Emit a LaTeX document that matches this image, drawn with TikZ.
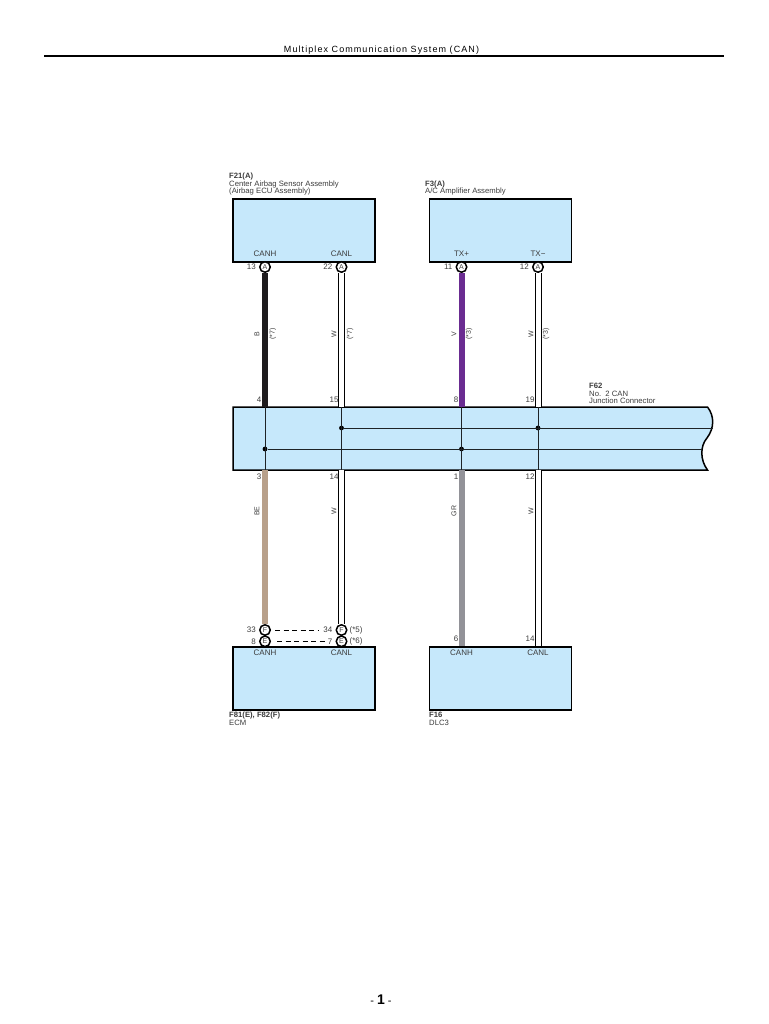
\documentclass[tikz,border=0pt]{standalone}
\usepackage{fontspec}
\setmainfont{Liberation Sans}
\usepackage{tikz}
\usetikzlibrary{positioning}
\definecolor{boxblue}{RGB}{198,232,251}
\definecolor{inkgray}{RGB}{60,60,60}
\definecolor{wireblack}{RGB}{30,28,30}
\definecolor{wireviolet}{RGB}{106,44,145}
\definecolor{wirebeige}{RGB}{184,160,138}
\definecolor{wiregray}{RGB}{146,146,152}

\begin{document}
\begin{tikzpicture}[x=1pt,y=-1pt,
                    every node/.style={font=\fontsize{8}{8}\selectfont,text=inkgray,inner sep=0pt},
                    ecu box/.style={draw=black,line width=1.5,fill=boxblue,minimum width=142,minimum height=63},
                    pin node/.style={circle,draw=black,line width=1.5,fill=white,minimum size=10.5,font=\fontsize{7}{7}\selectfont},
                    dot node/.style={circle,fill=black,minimum size=4.8},
                    cap node/.style={align=left,anchor=south west,font=\fontsize{7.7}{7.7}\selectfont},
                    wire label/.style={rotate=90,font=\fontsize{7}{7}\selectfont},
                    thick wire/.style={line width=6},
                    white wire/.style={draw=black,line width=1,double=white,double distance=5},
                    bus line/.style={draw=black!85!boxblue,line width=1}]
  \useasboundingbox (0,0) rectangle (768,1024);

  %header and page number%
  \node[text=black,font=\fontsize{9}{9}\selectfont\addfontfeature{LetterSpace=12}] (title) at (381.5,50) {Multiplex Communication System (CAN)};
  \coordinate (ruleL) at (44,56);
  \coordinate (ruleR) at (724,56);
  \draw[line width=1.5] (ruleL) -- (ruleR);
  \node[text=black,font=\fontsize{11}{11}\selectfont] (page) at (381,1000) {- \textbf{\fontsize{14}{14}\selectfont 1} -};

  %boxes%
  \node[ecu box] (airbag) at (304,230.5) {};
  \node[ecu box] (amp) at (500.5,230.5) {};
  \node[ecu box] (ecm) at (304,678.5) {};
  \node[ecu box] (dlc) at (500.5,678.5) {};

  %captions%
  \node[cap node] (airbagcap) at (229,195.5) {\textbf{F21(A)}\\Center Airbag Sensor Assembly\\(Airbag ECU Assembly)};
  \node[cap node] (ampcap) at (425,195.5) {\textbf{F3(A)}\\A/C Amplifier Assembly};
  \node[cap node] (jccap) at (589,404) {\textbf{F62}\\No.\ \ 2 CAN\\Junction Connector};
  \node[cap node,anchor=north west] (ecmcap) at (229,712) {\textbf{F81(E), F82(F)}\\ECM};
  \node[cap node,anchor=north west] (dlccap) at (429,712) {\textbf{F16}\\DLC3};

  %junction connector%
  \coordinate (j4) at (265,407);
  \coordinate (j15) at (341.5,407);
  \coordinate (j8) at (461.5,407);
  \coordinate (j19) at (538,407);
  \coordinate (j3) at (265,470);
  \coordinate (j14) at (341.5,470);
  \coordinate (j1) at (461.5,470);
  \coordinate (j12) at (538,470);
  \coordinate (busupper) at (712.5,428);
  \coordinate (buslower) at (701.8,449);
  \draw[line width=1.5,fill=boxblue] (233,407) -- (707.5,407)
    .. controls (714.5,416) and (714.5,428) .. (707,438)
    .. controls (700,446) and (700,460) .. (707.5,470) -- (233,470) -- cycle;

  %pins%
  \node[pin node] (pin13) at (265,267) {A};
  \node[pin node] (pin22) at (341.5,267) {A};
  \node[pin node] (pin11) at (461.5,267) {A};
  \node[pin node] (pin12) at (538,267) {A};
  \node[pin node] (pin33) at (265,630) {F};
  \node[pin node] (pin34) at (341.5,630) {F};
  \node[pin node] (pin8) at (265,641.3) {E};
  \node[pin node] (pin7) at (341.5,641.3) {E};
  \coordinate (dlc6) at (461.5,646);
  \coordinate (dlc14) at (538,646);

  %wires%
  \path[thick wire]
    (pin13) edge [wireblack] (j4)
    (pin11) edge [wireviolet] (j8)
    (j3) edge [wirebeige] (pin33)
    (j1) edge [wiregray] (dlc6);
  \path
    (pin22) edge [white wire] (j15)
    (pin12) edge [white wire] (j19)
    (j14) edge [white wire] (pin34)
    (j12) edge [white wire] (dlc14);

  %inside the connector%
  \node[dot node] (dotA) at (341.5,428) {};
  \node[dot node] (dotB) at (538,428) {};
  \node[dot node] (dotC) at (265,449) {};
  \node[dot node] (dotD) at (461.5,449) {};
  \path[bus line]
    (j4) edge (j3)
    (j15) edge (j14)
    (j8) edge (j1)
    (j19) edge (j12)
    (dotA) edge (busupper)
    (dotC) edge (buslower);

  %terminal names%
  \node (canhA) at (265,254) {CANH};
  \node (canlA) at (341.5,254) {CANL};
  \node (txp) at (461.5,254) {TX+};
  \node (txm) at (538,254) {TX−};
  \node (canhB) at (265,653) {CANH};
  \node (canlB) at (341.5,653) {CANL};
  \node (canhC) at (461.5,653) {CANH};
  \node (canlC) at (538,653) {CANL};

  %pin numbers%
  \node[left=3 of pin13] (n13) {13};
  \node[left=3 of pin22] (n22) {22};
  \node[left=3 of pin11] (n11) {11};
  \node[left=3 of pin12] (n12) {12};
  \node[left=3 of pin33] (n33) {33};
  \node[left=3 of pin34] (n34) {34};
  \node[left=3 of pin8] (n8) {8};
  \node[left=3 of pin7] (n7) {7};
  \node[right=2 of pin34] (s5) {(*5)};
  \node[right=2 of pin7] (s6) {(*6)};
  \path[black,line width=0.8,dash pattern=on 5pt off 3.5pt]
    (pin33) edge [shorten <=4,shorten >=4] (n34)
    (pin8) edge [shorten <=6,shorten >=0] (n7);
  \node (c4) at (259,400) {4};
  \node (c15) at (334,400) {15};
  \node (c8) at (456,400) {8};
  \node (c19) at (530,400) {19};
  \node (c3) at (259,477) {3};
  \node (c14) at (334,477) {14};
  \node (c1) at (456,477) {1};
  \node (c12) at (530,477) {12};
  \node (d6) at (456,639) {6};
  \node (d14) at (530,639) {14};

  %wire colours%
  \node[wire label] (lb) at (257,334) {B};
  \node[wire label] (sb) at (272.7,334) {(*7)};
  \node[wire label] (lw1) at (334,334) {W};
  \node[wire label] (sw1) at (350,334) {(*7)};
  \node[wire label] (lv) at (454,334) {V};
  \node[wire label] (sv) at (469,334) {(*3)};
  \node[wire label] (lw2) at (531,334) {W};
  \node[wire label] (sw2) at (546,334) {(*3)};
  \node[wire label] (lbe) at (257,511) {BE};
  \node[wire label] (lw3) at (334,511) {W};
  \node[wire label] (lgr) at (454,511) {GR};
  \node[wire label] (lw4) at (531,511) {W};
\end{tikzpicture}
\end{document}
